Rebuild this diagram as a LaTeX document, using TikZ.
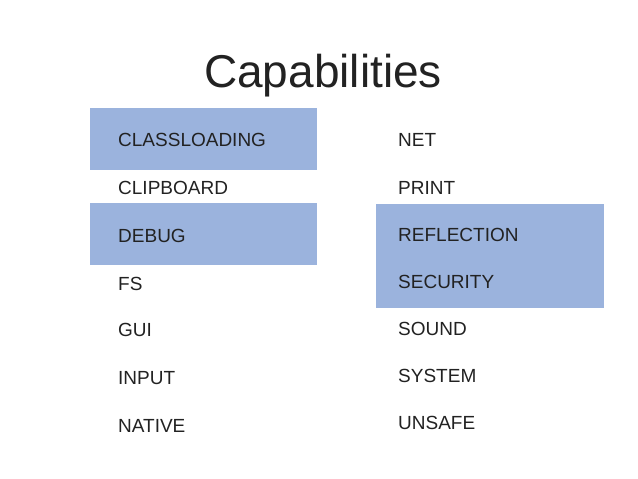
\documentclass[tikz,border=0pt]{standalone}
\usepackage{fontspec}
\setmainfont{Liberation Sans}
\definecolor{hl}{HTML}{9BB3DD}
\definecolor{tx}{HTML}{222222}
\begin{document}
\begin{tikzpicture}[x=1pt,y=-1pt,
  lbl/.style={anchor=west,inner sep=0pt,font=\fontsize{19}{20}\selectfont,text=tx},
  box/.style={fill=hl,draw=none}]
\useasboundingbox (0,0) rectangle (638,479);
\fill[white] (0,0) rectangle (638,479);
\fill[hl] (90,108) rectangle (317,170);
\fill[hl] (90,203) rectangle (317,265);
\fill[hl] (376,204) rectangle (604,308);
\node[inner sep=0pt,font=\fontsize{46}{50}\selectfont,text=tx] (t) at (323,76) {Capabilities};
\foreach \n/\y/\s in {a/140/CLASSLOADING,b/188/CLIPBOARD,c/236/DEBUG,d/284/FS,e/330/GUI,f/378/INPUT,g/426/NATIVE}
  \node[lbl] (l\n) at (118,\y) {\s};
\foreach \n/\y/\s in {a/140/NET,b/188/PRINT,c/235/REFLECTION,d/282/SECURITY,e/329/SOUND,f/376/SYSTEM,g/423/UNSAFE}
  \node[lbl] (r\n) at (398,\y) {\s};
\end{tikzpicture}
\end{document}
